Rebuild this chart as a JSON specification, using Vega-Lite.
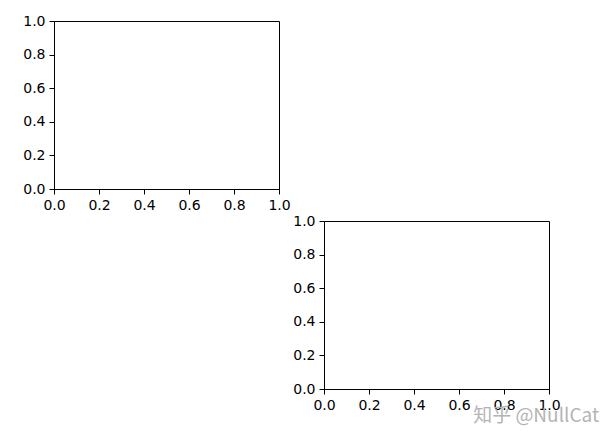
{
  "$schema": "https://vega.github.io/schema/vega-lite/v6.json",
  "background": "white",
  "padding": {"left": 22, "top": 13, "right": 14, "bottom": 10},
  "columns": 2,
  "bounds": "flush",
  "spacing": {"row": 32, "column": 45},
  "datasets": {"empty": []},
  "concat": [
    {
      "width": 225,
      "height": 168,
      "data": {"name": "empty"},
      "mark": "point",
      "encoding": {
        "x": {"field": "x", "type": "quantitative", "scale": {"domain": [0, 1], "nice": false}, "axis": {"title": null}},
        "y": {"field": "y", "type": "quantitative", "scale": {"domain": [0, 1], "nice": false}, "axis": {"title": null}}
      }
    },
    {
      "width": 225,
      "height": 168,
      "data": {"name": "empty"},
      "mark": "point",
      "view": {"stroke": null}
    },
    {
      "width": 225,
      "height": 168,
      "data": {"name": "empty"},
      "mark": "point",
      "view": {"stroke": null}
    },
    {
      "width": 225,
      "height": 168,
      "data": {"name": "empty"},
      "title": {
        "text": "知乎 @NullCat",
        "orient": "bottom",
        "anchor": "end",
        "dx": 39,
        "offset": -5,
        "font": "Noto Sans CJK SC",
        "fontSize": 19,
        "fontWeight": "normal",
        "color": "#b4b4b4",
        "opacity": 0.8
      },
      "mark": "point",
      "encoding": {
        "x": {"field": "x", "type": "quantitative", "scale": {"domain": [0, 1], "nice": false}, "axis": {"title": null}},
        "y": {"field": "y", "type": "quantitative", "scale": {"domain": [0, 1], "nice": false}, "axis": {"title": null}}
      }
    }
  ],
  "config": {
    "view": {"stroke": "black", "strokeWidth": 1},
    "axis": {
      "grid": false,
      "values": [0, 0.2, 0.4, 0.6, 0.8, 1],
      "format": ".1f",
      "domainColor": "black",
      "tickColor": "black",
      "tickSize": 5,
      "labelPadding": 4,
      "labelFont": "DejaVu Sans",
      "labelFontSize": 14,
      "labelColor": "black",
      "labelFlush": false,
      "labelOverlap": false
    }
  }
}
